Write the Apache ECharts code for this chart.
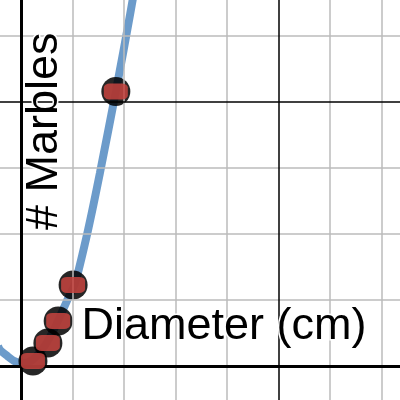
<!DOCTYPE html>
<html><head><meta charset="utf-8">
<script src="https://cdn.jsdelivr.net/npm/echarts@6/dist/echarts.min.js"></script>
<style>html,body{margin:0;padding:0;background:#fff}#c{width:400px;height:400px}</style>
</head><body><div id="c"></div>
<script>
const curveX = [-0.45,-0.41,-0.27,-0.14,0,0.14,0.27,0.47,0.66,0.91,1.05,1.30,1.53,1.84,1.98,2.12,2.26];
const curveY = [1.5,1.21,0.76,0.38,0.23,0.30,0.61,1.59,2.95,5.1,6.3,10.3,14.6,20.8,23.7,26.7,29.8];
const pointX = [0.23,0.52,0.72,1.01,1.84];
const pointY = [0.38,1.74,3.41,6.14,20.8];
const xMinor = [1,2,3,4,6,7];
const xMajor = [5];
const yMinor = [-5,5,10,15,25];
const yMajor = [20];
const xTitle = 'Diameter (cm)';
const yTitle = '# Marbles';

const chart = echarts.init(document.getElementById('c'));
const ml = (arr, key, color, w) => arr.map(v => ({[key]: v, lineStyle:{color, width:w, type:'solid'}}));
chart.setOption({
  animation:false,
  grid:{left:0,right:0,top:0,bottom:0},
  xAxis:{type:'value',min:-0.41,max:7.36,show:false},
  yAxis:{type:'value',min:-2.58,max:27.73,show:false},
  graphic:[
    {type:'text',left:80,top:303,style:{text:xTitle,font:'45px "Liberation Sans", Arial',fill:'#000',stroke:'#fff',lineWidth:3},z:10},
    {type:'text',x:22,y:230,rotation:Math.PI/2,style:{text:yTitle,font:'45px "Liberation Sans", Arial',fill:'#000',stroke:'#fff',lineWidth:3},z:10}
  ],
  series:[
    {type:'line',data:[],silent:true,markLine:{symbol:'none',silent:true,label:{show:false},
      data:[...ml(xMinor,'xAxis','#bbb',1.5),...ml(yMinor,'yAxis','#bbb',1.5),
            ...ml(xMajor,'xAxis','#000',1.5),...ml(yMajor,'yAxis','#000',1.5),
            ...ml([0],'xAxis','#000',3),...ml([0],'yAxis','#000',3)]}},
    {type:'line',data:curveX.map((x,i)=>[x,curveY[i]]),smooth:0.25,showSymbol:false,clip:true,
      lineStyle:{color:'#2d70b3',width:8,opacity:0.7},z:3},
    {type:'scatter',data:pointX.map((x,i)=>[x,pointY[i]]),symbol:'circle',symbolSize:29,
      itemStyle:{color:'#000',opacity:0.85},z:4},
    {type:'scatter',data:pointX.map((x,i)=>[x,pointY[i]]),symbol:'roundRect',symbolSize:[24,16],
      itemStyle:{color:'#c74440',opacity:0.85},z:5}
  ]
});
</script></body></html>
